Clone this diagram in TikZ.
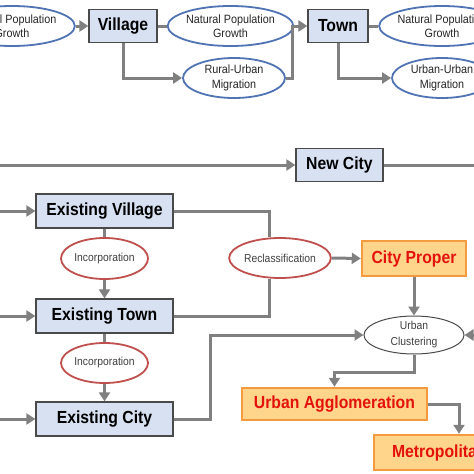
\documentclass[tikz,border=0pt]{standalone}
\usepackage{fontspec}
\setmainfont[FakeStretch=0.9]{Liberation Sans}
\usetikzlibrary{arrows.meta,shapes.geometric}
\definecolor{arrgray}{HTML}{808080}
\definecolor{boxfill}{HTML}{D7E1F1}
\definecolor{boxdraw}{HTML}{4A4A4A}
\definecolor{blueell}{HTML}{4F73B3}
\definecolor{redell}{HTML}{C0504D}
\definecolor{orfill}{HTML}{FFD58C}
\definecolor{ordraw}{HTML}{F59B3F}
\definecolor{redtext}{HTML}{E3120B}
\definecolor{txtgray}{HTML}{404040}
\begin{document}
\begin{tikzpicture}[x=1pt,y=-1pt,
 conn/.style={draw=arrgray,line width=3pt},
 arr/.style={conn,-{Triangle[length=9pt,width=11pt]}},
 bbox/.style={draw=boxdraw,line width=1.3pt,fill=boxfill,minimum height=33pt,inner sep=0pt,font=\fontsize{17.5}{20}\selectfont\bfseries,text=black},
 obox/.style={draw=ordraw,line width=2.5pt,fill=orfill,minimum height=33pt,inner sep=0pt,font=\fontsize{17.5}{20}\selectfont\bfseries,text=redtext},
 bell/.style={ellipse,draw=blueell,line width=1.8pt,fill=white,inner sep=0pt,align=center,font=\fontsize{12}{14.5}\selectfont,text=black!85},
 rell/.style={ellipse,draw=redell,line width=1.8pt,fill=white,inner sep=0pt,align=center,font=\fontsize{11.5}{14}\selectfont,text=txtgray},
 gell/.style={ellipse,draw=boxdraw,line width=1pt,fill=white,inner sep=0pt,align=center,font=\fontsize{11.5}{16}\selectfont,text=txtgray},
]
\useasboundingbox (0,0) rectangle (474,474);
\clip (0,0) rectangle (474,474);
\fill[white] (0,0) rectangle (474,474);

% top row
\node[bell,minimum width=116pt,minimum height=40pt] (e0) at (12,26) {Natural Population\\Growth};
\node[bbox,minimum width=68pt] (village) at (123,26) {Village};
\node[bell,minimum width=117pt,minimum height=40pt] (e1) at (230.5,26) {Natural Population\\Growth};
\node[bell,minimum width=102pt,minimum height=40pt] (e2) at (234,78) {Rural-Urban\\Migration};
\node[bbox,minimum width=60pt] (town) at (338,26) {Town};
\node[bell,minimum width=116pt,minimum height=40pt] (e3) at (442,26) {Natural Population\\Growth};
\node[bell,minimum width=100pt,minimum height=40pt] (e4) at (442,78) {Urban-Urban\\Migration};

% middle
\node[bbox,minimum width=87pt] (newcity) at (339.5,165) {New City};

% bottom
\node[bbox,minimum width=137pt,minimum height=34pt] (ev) at (104.5,211) {Existing Village};
\node[rell,minimum width=87pt,minimum height=41pt] (inc1) at (104.5,258.5) {Incorporation};
\node[bbox,minimum width=137pt,minimum height=34pt] (et) at (104.5,316) {Existing Town};
\node[rell,minimum width=87pt,minimum height=40pt] (inc2) at (104.5,363) {Incorporation};
\node[bbox,minimum width=137pt,minimum height=34pt] (ec) at (104.5,419) {Existing City};
\node[rell,minimum width=98pt,minimum height=40pt] (recl) at (280,258) {Reclassification};
\node[obox,minimum width=104pt,minimum height=35pt] (cp) at (414,258.5) {City Proper};
\node[gell,minimum width=100pt,minimum height=38pt] (uc) at (414,335) {Urban\\Clustering};
\node[obox,minimum width=185pt,minimum height=32pt] (ua) at (334.5,404) {Urban Agglomeration};
\node[obox,minimum width=170pt,minimum height=35pt] (metro) at (459,452.5) {Metropolitan Area};

\coordinate (lx) at (-10,0);
\coordinate (rx2) at (480,0);
\coordinate (j1) at (292,26);
\coordinate (rx) at (269,0);
\coordinate (k1) at (210,0);
\coordinate (k2) at (0,372);

% top connectors
\draw[arr] (e0.east) -- (village.west);
\draw[conn] (village.east) -- (e1.west);
\draw[arr] (village.south) |- (e2.west);
\draw[conn] (e1.east) -- (j1);
\draw[arr] (e2.east) -| (j1) -- (town.west);
\draw[conn] (town.east) -- (e3.west);
\draw[arr] (town.south) |- (e4.west);

% middle
\draw[arr] (newcity.west -| lx) -- (newcity.west);
\draw[conn] (newcity.east) -- (newcity.east -| rx2);

% bottom
\draw[arr] (ev.west -| lx) -- (ev.west);
\draw[arr] (et.west -| lx) -- (et.west);
\draw[arr] (ec.west -| lx) -- (ec.west);
\draw[conn] (ev.south) -- (inc1.north);
\draw[arr] (inc1.south) -- (et.north);
\draw[conn] (et.south) -- (inc2.north);
\draw[arr] (inc2.south) -- (ec.north);
\draw[conn] (ev.east) -| (recl.north -| rx);
\draw[conn] (et.east) -| (recl.south -| rx);
\draw[arr] (recl.east) -- (cp.west);
\draw[arr] (cp.south) -- (uc.north);
\draw[arr] (ec.east) -| (k1 |- uc.west) -- (uc.west);
\draw[arr] (uc.east -| rx2) -- (uc.east);
\draw[arr] (uc.south) |- (k2 -| ua.north) -- (ua.north);
\draw[arr] (ua.east) -| (metro.north);
\end{tikzpicture}
\end{document}
